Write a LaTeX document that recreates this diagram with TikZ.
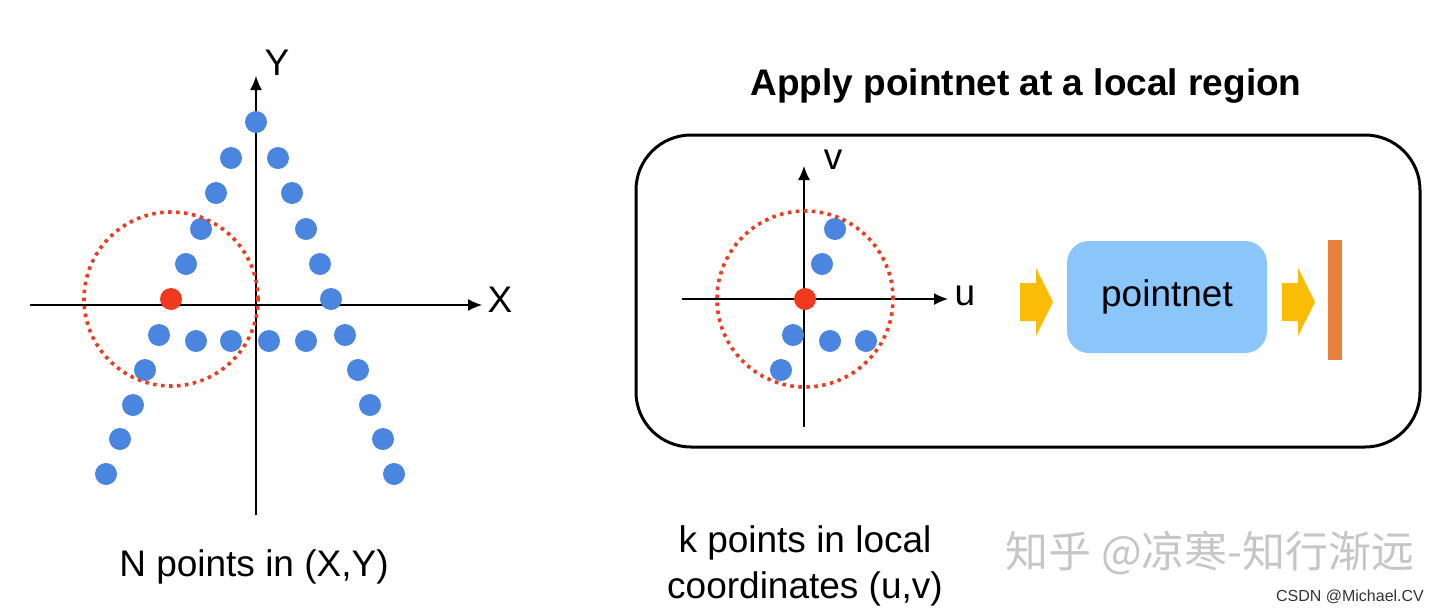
\documentclass[tikz,border=0pt]{standalone}
\usepackage{fontspec}
\setmainfont{Liberation Sans}
\newfontfamily\cjk{Noto Sans CJK SC}
\usetikzlibrary{arrows.meta}
\begin{document}
\begin{tikzpicture}[x=1pt,y=-1pt,
  dot/.style={circle,fill=ptblue,inner sep=0pt,minimum size=22pt},
  axis/.style={line width=1.3pt,-{Latex[length=14pt,width=12pt]}},
  ring/.style={draw=ptred,line width=3.6pt,dash pattern=on 3.5pt off 4.5pt},
  lab/.style={font=\fontsize{37}{42}\selectfont},
  yarr/.style={fill=ptyellow}]
\definecolor{ptblue}{HTML}{4A86E0}
\definecolor{ptred}{HTML}{F03A1E}
\definecolor{ptyellow}{HTML}{FBBC05}
\definecolor{boxblue}{HTML}{8AC6FA}
\definecolor{barorange}{HTML}{E8813A}
\useasboundingbox (0,0) rectangle (1452,614);
% left
\coordinate (xs) at (30,305); \coordinate (xe) at (482,305);
\coordinate (ys) at (256,515); \coordinate (ye) at (256,76);
\draw[axis] (xs) -- (xe);
\draw[axis] (ys) -- (ye);
\node[lab] (X) at (500,300) {X};
\node[lab] (Y) at (277,63) {Y};
\foreach \p [count=\i] in {(256,122),(231,158),(278,158),(216,193),(292,193),(201,229),(306,229),(186,264),(320,264),(331,299),(159,335),(196,341),(231,341),(269,341),(306,341),(345,335),(145,370),(358,370),(133,405),(370,405),(120,439),(383,439),(106,474),(394,474)}
  \node[dot] (a\i) at \p {};
\node[dot,fill=ptred] (c1) at (171,299) {};
\node[ring,circle,minimum size=174pt,inner sep=0pt] (r1) at (171,299) {};
\node[lab] (t1) at (254,567) {N points in (X,Y)};
% right
\draw[line width=3pt,rounded corners=55pt] (636,135) rectangle (1420,447);
\node[font=\bfseries\fontsize{37}{42}\selectfont] (title) at (1026,86) {Apply pointnet at a local region};
\coordinate (us) at (682,299); \coordinate (ue) at (948,299);
\coordinate (vs) at (804,427); \coordinate (ve) at (804,166);
\draw[axis] (us) -- (ue);
\draw[axis] (vs) -- (ve);
\node[lab] (u) at (965,296) {u};
\node[lab] (v) at (833,160) {v};
\foreach \p [count=\i] in {(835,229),(822,264),(793,335),(830,341),(866,341),(781,370)}
  \node[dot] (b\i) at \p {};
\node[dot,fill=ptred] (c2) at (805,299) {};
\node[ring,circle,minimum size=176pt,inner sep=0pt] (r2) at (805,299) {};
\fill[yarr] (1020,283) -- (1036,283) -- (1036,268) -- (1053,302) -- (1036,336) -- (1036,321) -- (1020,321) -- cycle;
\node[fill=boxblue,rounded corners=22pt,minimum width=200pt,minimum height=112pt,lab] (pn) at (1167,297) {pointnet};
\fill[yarr] (1282,283) -- (1298,283) -- (1298,268) -- (1315,302) -- (1298,336) -- (1298,321) -- (1282,321) -- cycle;
\fill[barorange] (1328,240) rectangle (1342,360);
\node[align=center,font=\fontsize{37}{46}\selectfont] (t2) at (805,566) {k points in local\\coordinates (u,v)};
\node[text=gray!45,font=\cjk\fontsize{43}{46}\selectfont] (wm) at (1210,553) {知乎 @凉寒-知行渐远};
\node[text=black!80,font=\fontsize{16}{18}\selectfont] (csdn) at (1350,597) {CSDN @Michael.CV};
\end{tikzpicture}
\end{document}
